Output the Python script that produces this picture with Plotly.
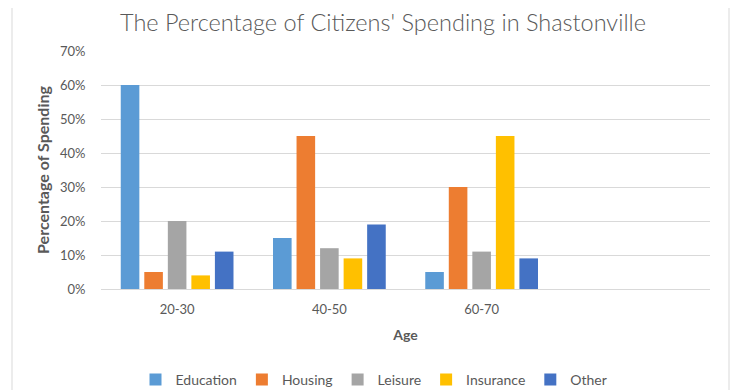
import plotly.graph_objects as go

ages = ["20-30", "40-50", "60-70"]
education = [60, 15, 5]
housing = [5, 45, 30]
leisure = [20, 12, 11]
insurance = [4, 9, 45]
other = [11, 19, 9]

series = [
    ("Education", education, "#5B9BD5"),
    ("Housing", housing, "#ED7D31"),
    ("Leisure", leisure, "#A5A5A5"),
    ("Insurance", insurance, "#FFC000"),
    ("Other", other, "#4472C4"),
]

W, H = 742, 390
# the page puts the figure 8px in from the top-left corner, so design in shifted coords
OFF = 8
PL, PR, PT, PB = 101, 710, 51, 289  # plot area in screen pixels
L, R, T, B = PL - OFF, W - (PR - OFF), PT - OFF, H - (PB - OFF)
pw, ph = W - L - R, H - T - B

def px_x(p):
    return (p - OFF - L) / pw

def px_y(p):
    return (H - B - (p - OFF)) / ph

FONT = "Lato"
GREY = "#595959"
CLEAR = "rgba(0,0,0,0)"

fig = go.Figure()
for name, vals, col in series:
    fig.add_trace(go.Bar(name=name, x=ages, y=vals, marker=dict(color=col, line=dict(width=0))))

fig.update_layout(
    width=W, height=H,
    margin=dict(l=L, r=R, t=T, b=B, autoexpand=False),
    paper_bgcolor="white", plot_bgcolor="white",
    barmode="group", bargap=0.227, bargroupgap=0.21,
    font=dict(family=FONT, size=13, color=GREY),
    title=dict(text="The Percentage of Citizens' Spending in Shastonville",
               x=px_x(383), xref="paper", xanchor="center",
               y=1 - (23 - OFF) / H, yref="container", yanchor="middle",
               font=dict(family=FONT, size=23.5, color=GREY, weight=300)),
    showlegend=True,
    legend=dict(orientation="h", x=px_x(374), xanchor="center", xref="paper",
                y=px_y(380), yanchor="middle", yref="paper",
                font=dict(size=14, color=GREY), itemwidth=30, traceorder="normal"),
    xaxis=dict(type="category", range=[-0.5, 3.5], showgrid=False, automargin=False,
               showline=True, linecolor="#D9D9D9", linewidth=1,
               ticks="outside", ticklen=8, tickcolor=CLEAR,
               tickfont=dict(size=13, color=GREY),
               title=dict(text="<b>Age</b>", standoff=14, font=dict(size=14, color=GREY))),
    yaxis=dict(range=[0, 70], dtick=10, ticksuffix="%", automargin=False,
               showgrid=True, gridcolor="#D9D9D9", gridwidth=1,
               zeroline=False, showline=False,
               ticks="outside", ticklen=12, tickcolor=CLEAR,
               tickfont=dict(size=13, color=GREY),
               title=dict(text="<b>Percentage of Spending</b>", standoff=6,
                          font=dict(size=16, color=GREY))),
    shapes=[dict(type="rect", xref="paper", yref="paper",
                 x0=px_x(12), x1=px_x(729), y0=px_y(398), y1=px_y(-2),
                 line=dict(color="#D9D9D9", width=1), fillcolor=CLEAR, layer="below")],
)

fig.write_html("out.html")
